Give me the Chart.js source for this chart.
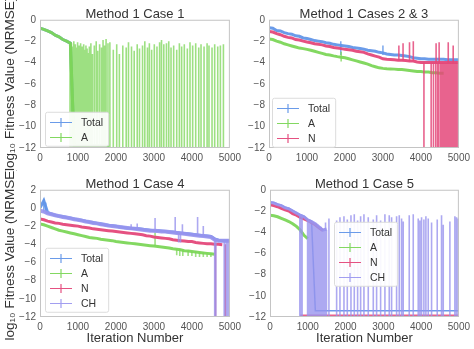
<!DOCTYPE html>
<html>
<head>
<meta charset="utf-8">
<script src="https://cdn.jsdelivr.net/npm/chart.js@4.4.0/dist/chart.umd.min.js"></script>
<style>
  html, body { margin: 0; padding: 0; background: #fff; }
  body { width: 474px; height: 349px; position: relative; overflow: hidden; }
  canvas { position: absolute; }
</style>
</head>
<body>
<canvas id="c1" width="245" height="175" style="left:0;top:0;width:245px;height:175px"></canvas>
<canvas id="c2" width="237" height="175" style="left:237px;top:0;width:237px;height:175px"></canvas>
<canvas id="c3" width="245" height="179" style="left:0;top:170px;width:245px;height:179px"></canvas>
<canvas id="c4" width="237" height="179" style="left:237px;top:170px;width:237px;height:179px"></canvas>
<script>
// --- data ---
const titles = ["Method 1 Case 1", "Method 1 Cases 2 & 3", "Method 1 Case 4", "Method 1 Case 5"];
const xTicks = [0, 1000, 2000, 3000, 4000, 5000];
const yTicks = [-12, -10, -8, -6, -4, -2, 0];
const yTicksCase4 = [-12, -10, -8, -6, -4, -2, 0, 2];

// iteration grid for the sampled curves
const iters = [0,100,200,300,400,500,600,700,800,900,
  1000,1100,1200,1300,1400,1500,1600,1700,1800,1900,
  2000,2100,2200,2300,2400,2500,2600,2700,2800,2900,
  3000,3100,3200,3300,3400,3500,3600,3700,3800,3900,
  4000,4100,4200,4300,4400,4500,4600,4700,4800,4900,5000];

// Case 1
const case1A = [-0.8,-0.9,-1.05,-1.2,-1.45,-1.6,-1.85,-2.0,-2.2,-11.8,
  -11.8,-11.8,-11.8,-11.8,-11.8,-11.8,-11.8,-11.8,-11.8,null,
  null,null,null,null,null,null,null,null,null,null,
  null,null,null,null,null,null,null,null,null,null,
  null,null,null,null,null,null,null,null,null,null,null];
const case1Total = case1A; // single objective: total equals A
// [iteration, from, to]
const case1ASpikes = [[790,-2.4,-12],[810,-2.9,-12],[830,-2.2,-12],[850,-3.1,-12],[870,-2.5,-12],[890,-2.0,-12],
  [910,-2.8,-12],[930,-2.3,-12],[950,-3.2,-12],[970,-2.6,-12],[990,-2.1,-12],[1010,-2.9,-12],[1030,-2.4,-12],
  [1050,-3.3,-12],[1070,-2.2,-12],[1090,-2.7,-12],[1110,-2.5,-12],[1130,-3.0,-12],[1150,-2.3,-12],[1170,-2.8,-12],
  [1190,-3.2,-12],[1210,-2.4,-12],[1240,-2.7,-12],[1270,-3.1,-12],[1300,-2.5,-12],[1340,-2.2,-12],[1380,-3.2,-12],
  [1430,-2.4,-12],[1480,-2.0,-12],[1520,-2.9,-12],[1570,-2.3,-12],[1620,-2.6,-12],[1660,-1.9,-12],[1700,-2.4,-12],
  [1740,-1.8,-12],[1790,-2.2,-12],[1840,-2.1,-12],[1930,-2.8,-12],[2020,-2.3,-12],[2090,-3.2,-12],[2180,-2.4,-12],
  [2270,-2.6,-12],[2330,-2.1,-12],[2410,-2.5,-12],[2480,-2.9,-12],[2560,-2.3,-12],[2620,-2.7,-12],[2700,-2.4,-12],
  [2760,-2.0,-12],[2830,-2.6,-12],[2880,-2.2,-12],[2940,-2.8,-12],[3010,-2.3,-12],[3080,-2.5,-12],[3150,-2.1,-12],
  [3200,-1.9,-12],[3260,-2.3,-12],[3330,-2.2,-12],[3390,-2.0,-12],[3450,-2.6,-12],[3520,-2.4,-12],[3600,-2.8,-12],
  [3670,-2.2,-12],[3730,-2.5,-12],[3800,-2.3,-12],[3880,-2.7,-12],[3950,-2.1,-12],[4020,-2.4,-12],[4100,-2.2,-12],
  [4180,-2.6,-12],[4240,-2.3,-12],[4320,-2.5,-12],[4400,-2.2,-12],[4450,-2.4,-12],[4530,-2.6,-12],[4600,-2.3,-12],
  [4680,-2.5,-12],[4750,-2.4,-12],[4830,-2.3,-12]];

// Cases 2 & 3
const case23Total = [-0.75,-0.8,-1.0,-1.05,-1.2,-1.3,-1.35,-1.5,-1.55,-1.7,
  -1.75,-1.85,-1.95,-2.0,-2.05,-2.15,-2.2,-2.3,-2.35,-2.4,
  -2.45,-2.5,-2.6,-2.65,-2.7,-2.75,-2.85,-2.9,-2.95,-3.05,
  -3.1,-3.2,-3.25,-3.3,-3.3,-3.35,-3.4,-3.45,-3.55,-3.6,
  -3.65,-3.65,-3.7,-3.7,-3.7,-3.7,-3.7,-3.75,-3.75,-3.75,-3.75];
const case23A = [-1.8,-1.85,-2.0,-2.1,-2.25,-2.35,-2.45,-2.55,-2.65,-2.7,
  -2.77,-2.85,-2.95,-3.05,-3.15,-3.25,-3.3,-3.38,-3.45,-3.5,
  -3.56,-3.65,-3.75,-3.85,-3.95,-4.05,-4.15,-4.3,-4.4,-4.5,
  -4.55,-4.58,-4.6,-4.62,-4.65,-4.66,-4.7,-4.75,-4.8,-4.85,
  -4.85,-4.9,-4.9,-4.95,-4.95,-5.0,-5.0,null,null,null,null];
const case23N = [-1.1,-1.15,-1.3,-1.4,-1.55,-1.65,-1.7,-1.85,-1.9,-2.0,
  -2.08,-2.15,-2.25,-2.3,-2.35,-2.45,-2.5,-2.6,-2.65,-2.7,
  -2.77,-2.8,-2.85,-2.95,-3.0,-3.05,-3.2,-3.3,-3.4,-3.5,
  -3.65,-3.7,-3.72,-3.75,-3.78,-3.8,-3.82,-3.85,-3.87,-3.95,
  -4.0,-4.0,-4.0,-4.0,-4.0,-4.0,-4.0,-4.0,-4.0,-4.0,-4.0];
const case23TotalSpikes = [[1890,-2.0,-3.3],[3000,-2.4,-3.3]];
const case23ASpikes = [[1900,-3.0,-3.9]];
const case23NSpikes = [[3420,-2.4,-3.8],[3530,-2.2,-3.8],[3700,-2.1,-3.85],[3800,-2.0,-3.9],
  [4400,-2.2,-4.0],[4480,-2.1,-4.0],[4720,-2.1,-4.0],[4850,-2.4,-4.0],
  [4080,-4.0,-12],[4270,-4.0,-12],[4330,-4.0,-12],[4390,-4.0,-12],[4440,-4.0,-12],[4470,-4.0,-12],
  [4520,-4.0,-12],[4560,-4.0,-12],[4590,-4.0,-12],[4620,-4.0,-12],[4650,-4.0,-12],[4670,-4.0,-12],
  [4690,-4.0,-12],[4710,-4.0,-12],[4730,-4.0,-12],[4750,-4.0,-12],[4770,-4.0,-12],[4790,-4.0,-12],
  [4810,-4.0,-12],[4830,-4.0,-12],[4850,-4.0,-12],[4870,-4.0,-12],[4890,-4.0,-12],[4910,-4.0,-12],
  [4930,-4.0,-12],[4950,-4.0,-12],[4970,-4.0,-12],[4990,-4.0,-12]];

// Case 4
const case4Total = [0.0,0.8,-0.5,-0.65,-0.8,-0.9,-0.95,-1.05,-1.1,-1.2,
  -1.3,-1.35,-1.45,-1.55,-1.6,-1.7,-1.75,-1.85,-1.9,-1.95,
  -2.0,-2.1,-2.15,-2.2,-2.25,-2.25,-2.3,-2.35,-2.4,-2.45,
  -2.5,-2.5,-2.55,-2.6,-2.65,-2.65,-2.7,-2.75,-2.8,-2.85,
  -2.9,-2.95,-3.0,-3.05,-3.1,-3.15,-3.4,-3.55,-3.6,-3.6,-3.6];
const case4A = [-1.75,-1.85,-2.0,-2.15,-2.3,-2.45,-2.55,-2.65,-2.75,-2.85,
  -2.95,-3.05,-3.15,-3.25,-3.3,-3.35,-3.45,-3.5,-3.55,-3.6,
  -3.7,-3.75,-3.8,-3.85,-3.9,-3.95,-4.0,-4.05,-4.1,-4.15,
  -4.2,-4.25,-4.3,-4.35,-4.4,-4.5,-4.55,-4.6,-4.7,-4.75,
  -4.8,-4.85,-4.9,-4.95,-5.0,-5.05,-5.1,null,null,null,null];
const case4N = [-1.2,-1.3,-1.45,-1.55,-1.65,-1.7,-1.8,-1.85,-1.9,-1.95,
  -2.0,-2.1,-2.15,-2.2,-2.3,-2.35,-2.4,-2.45,-2.5,-2.55,
  -2.6,-2.65,-2.7,-2.75,-2.8,-2.85,-2.9,-2.95,-3.05,-3.1,
  -3.2,-3.25,-3.3,-3.35,-3.4,-3.5,-3.55,-3.6,-3.65,-3.7,
  -3.7,-3.8,-3.85,-3.9,-3.95,-3.95,-4.0,-4.0,-4.05,null,null];
const case4CH = [-0.3,-0.4,-0.6,-0.7,-0.8,-0.9,-1.0,-1.05,-1.15,-1.25,
  -1.3,-1.4,-1.5,-1.55,-1.65,-1.7,-1.8,-1.85,-1.95,-2.0,
  -2.05,-2.1,-2.15,-2.2,-2.25,-2.3,-2.35,-2.4,-2.45,-2.5,
  -2.5,-2.55,-2.6,-2.6,-2.65,-2.7,-2.75,-2.8,-2.85,-2.9,
  -2.95,-3.0,-3.05,-3.1,-3.15,-3.2,-3.5,-3.6,-3.6,-3.6,-3.6];
const case4TotalSpikes = [[100,1.0,-0.5],[150,0.6,-0.6]];
const case4ASpikes = [[3030,-2.7,-4.2],[3600,-4.5,-5.2],[3680,-4.5,-5.3],[3760,-4.6,-5.3],[3900,-4.7,-5.3],
  [4000,-4.8,-5.3],[4100,-4.8,-5.4],[4200,-4.9,-5.4],[4300,-4.9,-5.4],[4400,-5.0,-5.4],[4500,-5.0,-5.4]];
const case4NSpikes = [[4620,-4.0,-12],[4880,-4.0,-12]];
const case4CHSpikes = [[2400,-1.8,-2.3],[2560,-1.7,-2.4],[3030,-1.1,-2.6],[3560,-1.0,-2.8],[3750,-1.8,-2.9],
  [4150,-1.0,-3.0],[4300,-2.0,-3.1],[3650,-2.6,-3.8],[3700,-2.7,-3.8],
  [4600,-3.3,-12],[4630,-3.4,-12],[4850,-3.6,-12],[4900,-3.6,-12],[4940,-3.6,-12],[4980,-3.6,-12]];

// Case 5
const case5Total = [-1.15,-1.2,-1.35,-1.45,-1.65,-1.75,-1.95,-2.15,-2.35,-2.5,
  -2.8,-2.95,-11.4,-11.4,-11.4,-11.4,-11.4,-11.4,-11.4,-11.4,
  -11.4,-11.4,-11.4,-11.4,-11.4,-11.4,-11.4,-11.4,-11.4,-11.4,
  -11.4,-11.4,-11.4,-11.4,-11.4,-11.4,-11.4,-11.4,-11.4,-11.4,
  -11.4,-11.4,-11.4,-11.4,-11.4,-11.4,-11.4,-11.4,-11.4,-11.4,-11.4];
const case5A = [-2.4,-2.45,-2.55,-2.7,-2.85,-3.0,-3.2,-3.45,-3.8,-4.3,
  -4.6,null,null,null,null,null,null,null,null,null,
  null,null,null,null,null,null,null,null,null,null,
  null,null,null,null,null,null,null,null,null,null,
  null,null,null,null,null,null,null,null,null,null,null];
const case5N = [-1.4,-1.5,-1.6,-1.75,-1.9,-2.0,-2.25,-2.4,-2.6,-2.75,
  -2.9,-3.1,-3.3,-3.6,-3.85,null,null,null,null,null,
  null,null,null,null,null,null,null,null,null,null,
  null,null,null,null,null,null,null,null,null,null,
  null,null,null,null,null,null,null,null,null,null,null];
const case5CH = [-1.2,-1.25,-1.4,-1.5,-1.7,-1.8,-2.0,-2.2,-2.4,-2.55,
  -2.85,-3.0,-3.2,-3.5,-3.8,-3.7,null,null,null,null,
  null,null,null,null,null,null,null,null,null,null,
  null,null,null,null,null,null,null,null,null,null,
  null,null,null,null,null,null,null,null,null,null,null];
// [from iteration, to iteration, value]
const case5NFloor = [[800,5000,-11.85]];
const case5CHSpikes = [[790,-2.4,-12],[805,-2.5,-12],[820,-2.4,-12],[835,-2.6,-12],[850,-2.5,-12],
  [995,-2.9,-12],[1020,-2.8,-12],[1045,-3.0,-12],[1070,-2.9,-12],[1095,-3.1,-12],[1120,-3.0,-12],
  [1145,-3.2,-12],[1170,-3.1,-12],[1195,-3.2,-12],[1220,-3.3,-12],[1245,-3.4,-12],[1270,-3.3,-12],
  [1295,-3.5,-12],[1320,-3.6,-12],[1345,-3.5,-12],[1370,-3.7,-12],[1395,-3.8,-12],[1420,-3.7,-12],
  [1445,-3.8,-12],[1470,-3.1,-12],[1495,-3.8,-12],
  [1560,-2.7,-12],[1764,-2.9,-12],[1852,-2.6,-12],[1958,-2.5,-12],[2046,-2.8,-12],[2143,-2.4,-12],
  [2231,-2.3,-12],[2319,-2.9,-12],[2399,-2.5,-12],[2487,-2.3,-12],[2601,-2.6,-12],[2734,-2.8,-12],
  [2822,-2.4,-12],[2928,-2.9,-12],[3042,-2.3,-12],[3157,-2.4,-12],[3219,-2.6,-12],[3351,-2.5,-12],
  [3422,-2.4,-12],[3483,-2.7,-12],[3527,-3.0,-12],[3686,-2.4,-12],[3792,-2.3,-12],[3924,-2.7,-12],
  [3968,-2.9,-12],[4012,-2.6,-12],[4074,-2.8,-12],[4127,-2.5,-12],[4189,-2.7,-12],[4277,-3.1,-12],
  [4427,-2.8,-12],[4541,-2.4,-12],[4586,-3.3,-12],[4762,-3.0,-12],[4894,-2.5,-12],[4938,-2.6,-12],
  [4982,-2.7,-12]];

// --- drawing ---
const FONT = '"Liberation Sans", Arial, sans-serif';
const colors = { Total: "rgba(98,150,232,0.95)", A: "rgba(124,214,88,0.95)", N: "rgba(228,72,122,0.95)", CH: "rgba(152,148,238,0.9)" };
const spikeColors = { Total: "rgba(98,150,232,0.8)", A: "rgba(124,214,88,0.75)", N: "rgba(228,72,122,0.85)", CH: "rgba(152,148,238,0.8)" };
const seriesOrder = ["Total", "A", "N", "CH"];

const panels = [
  { id: "c1", title: titles[0], yTicks: yTicks, yw: 40, rp: 15, xh: 27, yTitle: true, xTitle: false, legend: { x: 5, y: 92 },
    series: [{ name: "Total", values: case1Total }, { name: "A", values: case1A, spikes: case1ASpikes }] },
  { id: "c2", title: titles[1], yTicks: yTicks, yw: 32, rp: 15, xh: 27, yTitle: false, xTitle: false, legend: { x: 3, y: 78 },
    series: [{ name: "Total", values: case23Total, spikes: case23TotalSpikes },
             { name: "A", values: case23A, spikes: case23ASpikes },
             { name: "N", values: case23N, spikes: case23NSpikes }] },
  { id: "c3", title: titles[2], yTicks: yTicksCase4, yw: 40, rp: 15, xh: 32, yTitle: true, xTitle: true, legend: { x: 5, y: 58 },
    series: [{ name: "Total", values: case4Total, spikes: case4TotalSpikes },
             { name: "A", values: case4A, spikes: case4ASpikes },
             { name: "N", values: case4N, spikes: case4NSpikes },
             { name: "CH", values: case4CH, spikes: case4CHSpikes, width: 4 }] },
  { id: "c4", title: titles[3], yTicks: yTicks, yw: 33, rp: 15, xh: 32, yTitle: false, xTitle: true, legend: { x: 64, y: 32 },
    series: [{ name: "Total", values: case5Total, width: 1.5 },
             { name: "A", values: case5A },
             { name: "N", values: case5N, floors: case5NFloor },
             { name: "CH", values: case5CH, spikes: case5CHSpikes }] }
];

function trendPoints(values) {
  return iters.map((x, i) => ({ x: x, y: values[i] }));
}

function markPoints(spikes, floors) {
  const pts = [];
  (spikes || []).forEach(([x, y1, y2]) => { pts.push({ x, y: y1 }, { x, y: y2 }, { x, y: null }); });
  (floors || []).forEach(([x1, x2, y]) => { pts.push({ x: x1, y }, { x: x2, y }, { x: x2, y: null }); });
  return pts;
}

const minus = v => (v < 0 ? "\u2212" + Math.abs(v) : String(v));

// frame round the plot + matplotlib-like legend box inside it
const panelDecor = {
  id: "panelDecor",
  afterDatasetsDraw(chart, args, opts) {
    const { ctx, chartArea: a } = chart;
    ctx.save();
    ctx.strokeStyle = "#c4c4c4";
    ctx.lineWidth = 1;
    ctx.strokeRect(a.left + 0.5, a.top + 0.5, a.right - a.left - 1, a.bottom - a.top - 1);

    const items = chart.data.datasets.filter(d => d.label);
    ctx.font = "10.5px " + FONT;
    const w = 41 + Math.max(...items.map(d => ctx.measureText(d.label).width));
    const rowH = 15;
    const h = 19 + (items.length - 1) * rowH;
    const bx = a.left + opts.x, by = a.top + opts.y;
    ctx.fillStyle = "rgba(255,255,255,0.93)";
    ctx.strokeStyle = "#dcdcdc";
    ctx.beginPath();
    ctx.roundRect(bx + 0.5, by + 0.5, w, h, 2);
    ctx.fill();
    ctx.stroke();
    items.forEach((d, i) => {
      const cy = Math.round(by + 10 + i * rowH) + 0.5;
      ctx.strokeStyle = d.borderColor;
      ctx.lineWidth = 1.2;
      ctx.beginPath();
      ctx.moveTo(bx + 5, cy); ctx.lineTo(bx + 27, cy);
      ctx.moveTo(bx + 16, cy - 4.5); ctx.lineTo(bx + 16, cy + 4.5);
      ctx.stroke();
      ctx.fillStyle = "#333";
      ctx.textBaseline = "middle";
      ctx.textAlign = "left";
      ctx.fillText(d.label, bx + 36, cy + 0.5);
    });
    ctx.restore();
  }
};

panels.forEach(p => {
  const datasets = [];
  p.series.forEach(s => {
    const k = seriesOrder.indexOf(s.name);
    datasets.push({
      label: s.name,
      data: trendPoints(s.values),
      borderColor: colors[s.name],
      borderWidth: s.width || 3,
      order: 8 - 2 * k
    });
  });
  p.series.forEach(s => {
    const k = seriesOrder.indexOf(s.name);
    datasets.push({
      label: "",
      data: markPoints(s.spikes, s.floors),
      borderColor: spikeColors[s.name],
      borderWidth: 1.6,
      order: 7 - 2 * k
    });
  });

  new Chart(document.getElementById(p.id), {
    type: "line",
    data: { datasets: datasets },
    options: {
      responsive: false,
      animation: false,
      devicePixelRatio: 1,
      spanGaps: false,
      layout: { padding: { left: 0, right: p.rp, top: 0, bottom: 0 } },
      elements: { point: { radius: 0 }, line: { tension: 0, fill: false, borderCapStyle: "butt" } },
      plugins: {
        legend: { display: false },
        tooltip: { enabled: false },
        title: {
          display: true, text: p.title, color: "#333", fullSize: false,
          font: { size: 13, family: FONT, weight: "normal", lineHeight: 0.75 },
          padding: { top: 10, bottom: 0 }
        },
        panelDecor: p.legend
      },
      scales: {
        x: {
          type: "linear", min: 0, max: 5000,
          afterBuildTicks: s => { s.ticks = xTicks.map(v => ({ value: v })); },
          afterFit: s => { s.height = p.xh; },
          grid: { display: false, drawTicks: false },
          border: { display: false },
          ticks: { color: "#555", font: { size: 10, family: FONT }, padding: 4, maxRotation: 0, autoSkip: false,
                   callback: v => String(v) },
          title: { display: p.xTitle, text: "Iteration Number", color: "#333",
                   font: { size: 13, family: FONT }, padding: { top: 0, bottom: 3 } }
        },
        y: {
          min: p.yTicks[0], max: p.yTicks[p.yTicks.length - 1],
          afterBuildTicks: s => { s.ticks = p.yTicks.map(v => ({ value: v })); },
          afterFit: s => { s.width = p.yw; },
          grid: { display: false, drawTicks: false },
          border: { display: false },
          ticks: { color: "#555", font: { size: 10, family: FONT }, padding: 4, callback: minus },
          title: { display: p.yTitle, text: "log\u2081\u2080 Fitness Value (NRMSE)", color: "#333",
                   font: { size: 13.5, family: FONT }, padding: { top: 2, bottom: 0 } }
        }
      }
    },
    plugins: [panelDecor]
  });
});
</script>
</body>
</html>
